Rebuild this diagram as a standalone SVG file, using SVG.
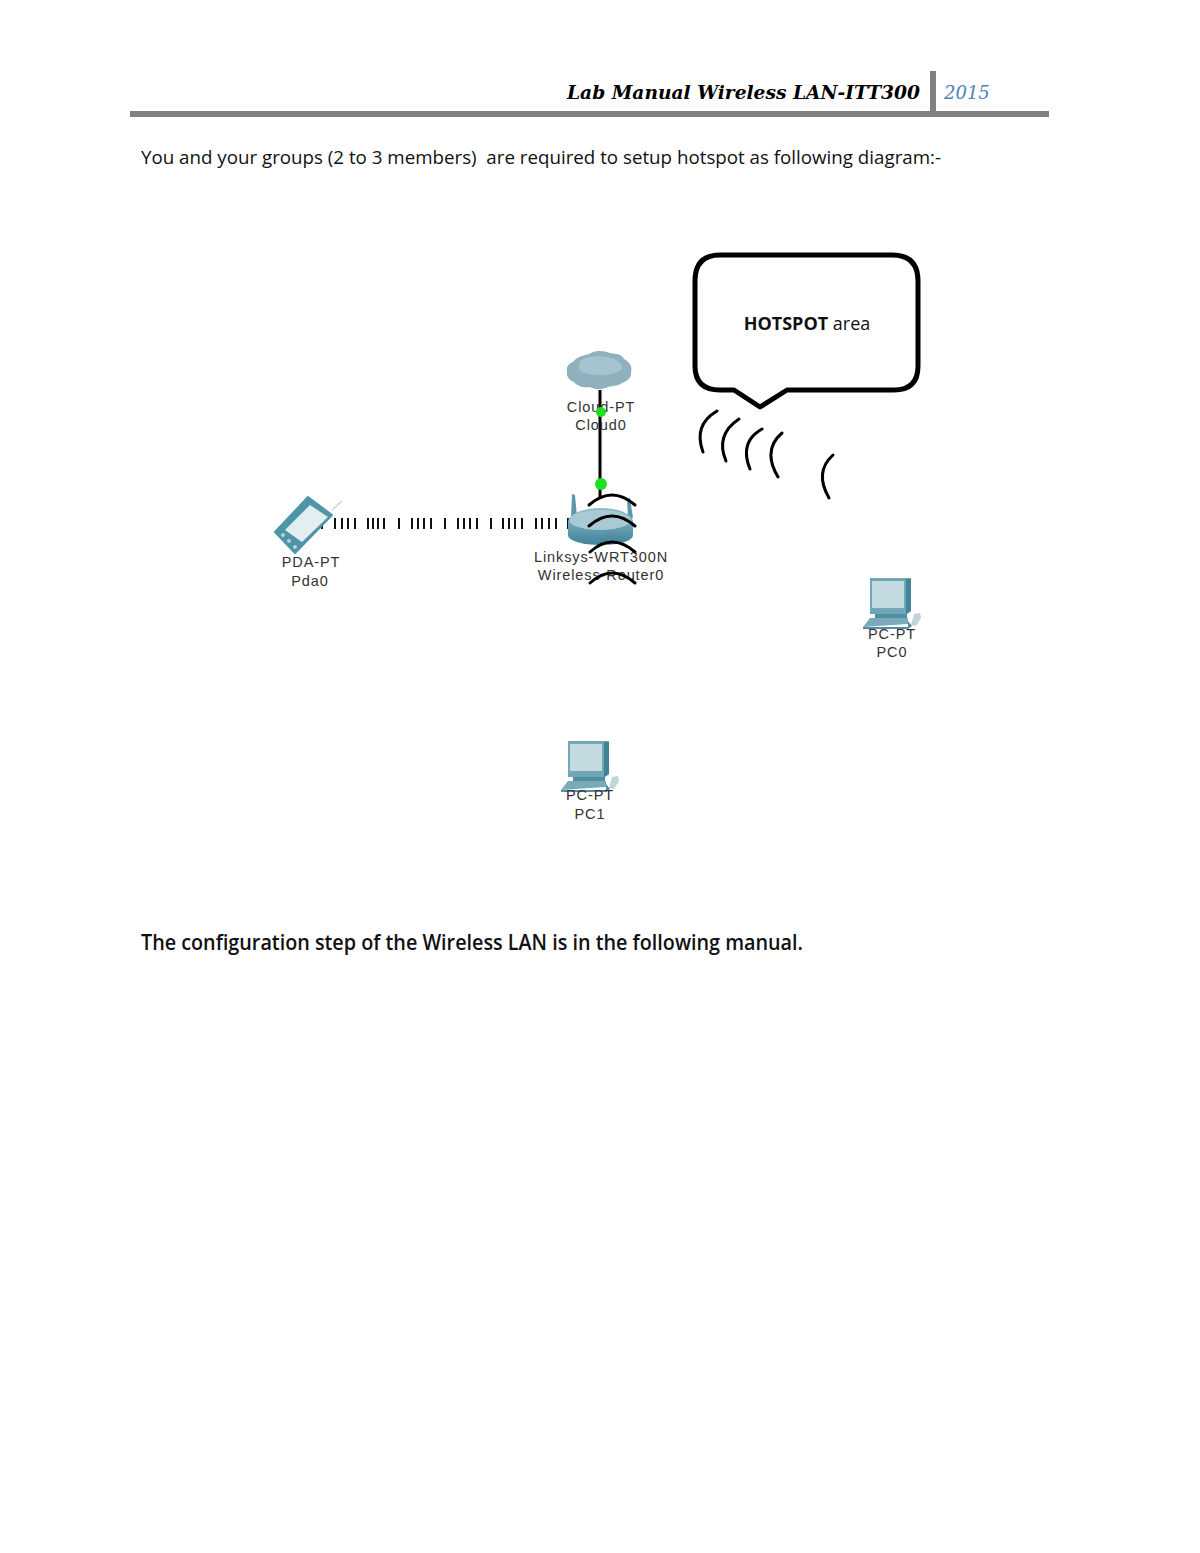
<svg xmlns="http://www.w3.org/2000/svg" width="1200" height="1553" viewBox="0 0 1200 1553">
<style>
.body{font-family:"Open Sans","Noto Sans","Liberation Sans",sans-serif;fill:#111}
.hdr{font-family:"DejaVu Serif","Liberation Serif",serif;font-style:italic}
.lbl{font-family:"Liberation Sans",sans-serif;font-size:14.5px;fill:#333;text-anchor:middle;letter-spacing:.9px}
.arc{fill:none;stroke:#000;stroke-width:3;stroke-linecap:round}
.icon{filter:url(#soft)}
</style>
<defs>
<filter id="soft" x="-10%" y="-10%" width="120%" height="120%"><feGaussianBlur stdDeviation="0.6"/></filter>
<linearGradient id="rg" x1="0" y1="0" x2="0" y2="1"><stop offset="0" stop-color="#8fbccb"/><stop offset="1" stop-color="#3f8398"/></linearGradient>
<g id="pc">
<path d="M6 1H47V34L43 37H6Z" fill="#6fa6b6"/>
<path d="M42 2H47V34L42 37Z" fill="#3f8497"/>
<rect x="8" y="4" width="32" height="27" fill="#c3dae1"/>
<path d="M11 37H43V41H11Z" fill="#4f8fa2"/>
<path d="M6 41H44V47L-1 50Z" fill="#7aa9b7"/>
<path d="M-1 50H44V44L48 49 44 52H-1Z" fill="#4f8fa2"/>
<path d="M50 37l6-1 1 5-5 8-5-1z" fill="#c0d4da"/>
</g>
</defs>
<rect width="1200" height="1553" fill="#fff"/>
<g id="header">
<rect x="130" y="111" width="919" height="6" fill="#808080"/>
<rect x="930" y="71" width="6" height="41" fill="#808080"/>
<text class="hdr" x="567" y="99" font-size="18.65" font-weight="700" fill="#000">Lab Manual Wireless LAN-ITT300</text>
<text class="hdr" x="944" y="99" font-size="18" fill="#4f81bd">2015</text>
</g>
<text class="body" x="141" y="164" font-size="18" textLength="800" lengthAdjust="spacingAndGlyphs" xml:space="preserve">You and your groups (2 to 3 members)  are required to setup hotspot as following diagram:-</text>
<g id="connectors">
<line x1="600" y1="390" x2="600" y2="497" stroke="#000" stroke-width="3"/>
<path d="M322 518v11M335 518v11M342 518v11M348 518v11M355 518v11M368 518v11M373 518v11M378 518v11M384 518v11M399 518v11M412 518v11M418 518v11M424 518v11M431 518v11M445 518v11M458 518v11M464 518v11M470 518v11M477 518v11M491 518v11M503 518v11M509 518v11M515 518v11M522 518v11M536 518v11M542 518v11M549 518v11M556 518v11M568 518v11" fill="none" stroke="#111" stroke-width="2"/>
</g>
<g id="cloud0">
<path class="icon" d="M573 362c6-8 14-6 18-9 6-3 14-2 19 0 6 1 12 1 14 6 5 2 9 8 7 13 1 6-4 9-9 11-5 4-11 2-16 5-6 2-12 1-17-1-6 1-12-1-15-5-5-2-8-6-7-11-1-4 2-8 6-9z" fill="#8fb0bd"/>
<path class="icon" d="M582 360c8-5 24-5 34 0 6 4 8 8 4 11-12 6-28 5-38 1-4-3-4-9 0-12z" fill="#a6c4cf"/>
<text class="lbl" x="601" y="412">Cloud-PT</text>
<text class="lbl" x="601" y="430">Cloud0</text>
<circle cx="601" cy="412" r="5" fill="#1fe01f"/>
<circle cx="601" cy="484" r="6" fill="#1fe01f"/>
</g>
<g id="router0">
<g class="icon">
<path d="M571 518l1-24 3 1 2 22zM628 518l-1-19 3-1 3 20z" fill="#5d98a8"/>
<path d="M568 522c0-8 16-14 33-14s32 6 32 14v13c0 6-14 10-32 10s-33-4-33-10z" fill="url(#rg)"/>
<ellipse cx="600" cy="520" rx="31" ry="10" fill="#a9c9d4"/>
</g>
<text class="lbl" x="601" y="562">Linksys-WRT300N</text>
<text class="lbl" x="601" y="580">Wireless-Router0</text>
<path class="arc" d="M589 505q23-20 46 0"/>
<path class="arc" d="M589 526q23-20 46 0"/>
<path class="arc" d="M590 552q22-20 45 0"/>
<path class="arc" d="M590 583q22-20 45 0"/>
</g>
<g id="pda0">
<g class="icon">
<path d="M275 532L308 497 332 515 295 553Z" fill="#4f95a8" stroke="#4f95a8" stroke-width="2" stroke-linejoin="round"/>
<path d="M285 530L310 505 328 517 302 542Z" fill="#e3eef1"/>
<circle cx="283" cy="535" r="2" fill="#b9d3da"/><circle cx="289" cy="541" r="2" fill="#b9d3da"/><circle cx="295" cy="547" r="2" fill="#b9d3da"/>
<line x1="332" y1="510" x2="342" y2="501" stroke="#c4d6db" stroke-width="1.5"/>
</g>
<text class="lbl" x="311" y="567">PDA-PT</text>
<text class="lbl" x="310" y="586">Pda0</text>
</g>
<g id="pc0">
<use class="icon" href="#pc" x="864" y="577"/>
<text class="lbl" x="892" y="639">PC-PT</text>
<text class="lbl" x="892" y="657">PC0</text>
</g>
<g id="pc1">
<use class="icon" href="#pc" x="562" y="740"/>
<text class="lbl" x="590" y="800">PC-PT</text>
<text class="lbl" x="590" y="819">PC1</text>
</g>
<g id="hotspot">
<path d="M720 255H892Q918 255 918 281V366Q918 390 894 390H787L760 407 734 390H720Q695 390 695 366V281Q695 255 720 255Z" fill="#fff" stroke="#000" stroke-width="5" stroke-linejoin="round"/>
<text x="807" y="330" font-size="18" text-anchor="middle" class="body"><tspan font-weight="700">HOTSPOT</tspan> area</text>
</g>
<g id="signals">
<path class="arc" d="M717 411Q693 425 703 452"/>
<path class="arc" d="M739 419Q715 435 726 461"/>
<path class="arc" d="M762 429Q739 442 750 469"/>
<path class="arc" d="M782 433Q762 450 778 477"/>
<path class="arc" d="M833 455Q814 472 829 498"/>
</g>
<text class="body" x="141" y="950" font-size="21" font-weight="600" textLength="662" lengthAdjust="spacingAndGlyphs">The configuration step of the Wireless LAN is in the following manual.</text>
</svg>
